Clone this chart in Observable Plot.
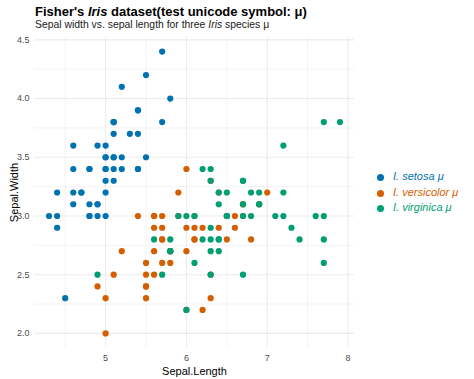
<!DOCTYPE html>
<html>
<head>
<meta charset="utf-8">
<script src="https://cdn.jsdelivr.net/npm/d3@7"></script>
<script src="https://cdn.jsdelivr.net/npm/@observablehq/plot@0.6"></script>
<style>
  body { margin: 0; background: #fff; font-family: "Liberation Sans", Arial, sans-serif; }
  #wrap { position: relative; width: 474px; height: 379px; overflow: hidden; }
  #head { height: 34px; position: relative; }
  #title { position: absolute; left: 35px; top: 4px; font-size: 13px; line-height: 15px; font-weight: bold; color: #000; white-space: nowrap; }
  #subtitle { position: absolute; left: 35px; top: 19px; font-size: 10.4px; line-height: 12px; color: #1a1a1a; white-space: nowrap; }
  #legend { position: absolute; left: 377px; top: 170px; }
  .li { position: absolute; left: 0; height: 16px; white-space: nowrap; font-size: 11px; font-style: italic; }
  .li span.d { position: absolute; left: 0; top: 4px; width: 7px; height: 7px; border-radius: 50%; }
  .li span.t { position: absolute; left: 16px; top: 0; }
  svg { overflow: visible; }
  g[aria-label="x-axis label"] text, g[aria-label="y-axis label"] text { font-size: 11px; fill: #000; }
</style>
</head>
<body>
<div id="wrap">
  <div id="head">
    <div id="title">Fisher's <i>Iris</i> dataset(test unicode symbol: μ)</div>
    <div id="subtitle">Sepal width vs. sepal length for three <i>Iris</i> species μ</div>
  </div>
  <div id="chart"></div>
  <div id="legend"></div>
</div>
<script>
const species = ["setosa", "versicolor", "virginica"];
const legendLabels = ["I. setosa μ", "I. versicolor μ", "I. virginica μ"];
const colors = ["#0072B2", "#D55E00", "#009E73"];

const setosaLength = [5.1,4.9,4.7,4.6,5.0,5.4,4.6,5.0,4.4,4.9,5.4,4.8,4.8,4.3,5.8,5.7,5.4,5.1,5.7,5.1,5.4,5.1,4.6,5.1,4.8,5.0,5.0,5.2,5.2,4.7,4.8,5.4,5.2,5.5,4.9,5.0,5.5,4.9,4.4,5.1,5.0,4.5,4.4,5.0,5.1,4.8,5.1,4.6,5.3,5.0];
const setosaWidth  = [3.5,3.0,3.2,3.1,3.6,3.9,3.4,3.4,2.9,3.1,3.7,3.4,3.0,3.0,4.0,4.4,3.9,3.5,3.8,3.8,3.4,3.7,3.6,3.3,3.4,3.0,3.4,3.5,3.4,3.2,3.1,3.4,4.1,4.2,3.1,3.2,3.5,3.6,3.0,3.4,3.5,2.3,3.2,3.5,3.8,3.0,3.8,3.2,3.7,3.3];
const versicolorLength = [7.0,6.4,6.9,5.5,6.5,5.7,6.3,4.9,6.6,5.2,5.0,5.9,6.0,6.1,5.6,6.7,5.6,5.8,6.2,5.6,5.9,6.1,6.3,6.1,6.4,6.6,6.8,6.7,6.0,5.7,5.5,5.5,5.8,6.0,5.4,6.0,6.7,6.3,5.6,5.5,5.5,6.1,5.8,5.0,5.6,5.7,5.7,6.2,5.1,5.7];
const versicolorWidth  = [3.2,3.2,3.1,2.3,2.8,2.8,3.3,2.4,2.9,2.7,2.0,3.0,2.2,2.9,2.9,3.1,3.0,2.7,2.2,2.5,3.2,2.8,2.5,2.8,2.9,3.0,2.8,3.0,2.9,2.6,2.4,2.4,2.7,2.7,3.0,3.4,3.1,2.3,3.0,2.5,2.6,3.0,2.6,2.3,2.7,3.0,2.9,2.9,2.5,2.8];
const virginicaLength = [6.3,5.8,7.1,6.3,6.5,7.6,4.9,7.3,6.7,7.2,6.5,6.4,6.8,5.7,5.8,6.4,6.5,7.7,7.7,6.0,6.9,5.6,7.7,6.3,6.7,7.2,6.2,6.1,6.4,7.2,7.4,7.9,6.4,6.3,6.1,7.7,6.3,6.4,6.0,6.9,6.7,6.9,5.8,6.8,6.7,6.7,6.3,6.5,6.2,5.9];
const virginicaWidth  = [3.3,2.7,3.0,2.9,3.0,3.0,2.5,2.9,2.5,3.6,3.2,2.7,3.0,2.5,2.8,3.2,3.0,3.8,2.6,2.2,3.2,2.8,2.8,2.7,3.3,3.2,2.8,3.0,2.8,3.0,2.8,3.8,2.8,2.8,2.6,3.0,3.4,3.1,3.0,3.1,3.1,3.1,2.7,3.2,3.3,3.0,2.5,3.0,3.4,3.0];

const xTicks = [5, 6, 7, 8];
const xMinor = [4.5, 5.5, 6.5, 7.5];
const yTicks = [2.0, 2.5, 3.0, 3.5, 4.0, 4.5];
const yMinor = [2.25, 2.75, 3.25, 3.75, 4.25];

const lengths = [setosaLength, versicolorLength, virginicaLength];
const widths = [setosaWidth, versicolorWidth, virginicaWidth];
const data = [];
species.forEach((s, i) => lengths[i].forEach((v, j) => data.push({species: s, len: v, wid: widths[i][j]})));

const chart = Plot.plot({
  width: 474,
  height: 345,
  marginTop: 3,
  marginBottom: 32,
  marginLeft: 34,
  marginRight: 120,
  style: {fontFamily: "'Liberation Sans', Arial, sans-serif", fontSize: "9px", background: "#fff", overflow: "visible"},
  x: {domain: [4.12, 8.08]},
  y: {domain: [1.88, 4.52]},
  color: {domain: species, range: colors},
  marks: [
    Plot.gridX(xMinor, {stroke: "#ebebeb", strokeOpacity: 1, strokeWidth: 0.6}),
    Plot.gridY(yMinor, {stroke: "#ebebeb", strokeOpacity: 1, strokeWidth: 0.6}),
    Plot.gridX(xTicks, {stroke: "#ebebeb", strokeOpacity: 1, strokeWidth: 1.1}),
    Plot.gridY(yTicks, {stroke: "#ebebeb", strokeOpacity: 1, strokeWidth: 1.1}),
    Plot.axisX(xTicks, {tickSize: 0, tickPadding: 7, color: "#4d4d4d", label: "Sepal.Length", labelAnchor: "center", labelArrow: "none", labelOffset: 27}),
    Plot.axisY(yTicks, {tickSize: 0, tickPadding: 5, color: "#4d4d4d", tickFormat: d => d.toFixed(1), label: "Sepal.Width", labelAnchor: "center", labelArrow: "none", labelOffset: 24}),
    Plot.dot(data, {x: "len", y: "wid", fill: "species", r: 3.1, stroke: "none"})
  ]
});
document.getElementById("chart").appendChild(chart);

const legend = document.getElementById("legend");
species.forEach((s, i) => {
  const row = document.createElement("div");
  row.className = "li";
  row.style.top = (i * 15.5) + "px";
  row.innerHTML = `<span class="d" style="background:${colors[i]}"></span><span class="t" style="color:${colors[i]}">${legendLabels[i]}</span>`;
  legend.appendChild(row);
});
</script>
</body>
</html>
